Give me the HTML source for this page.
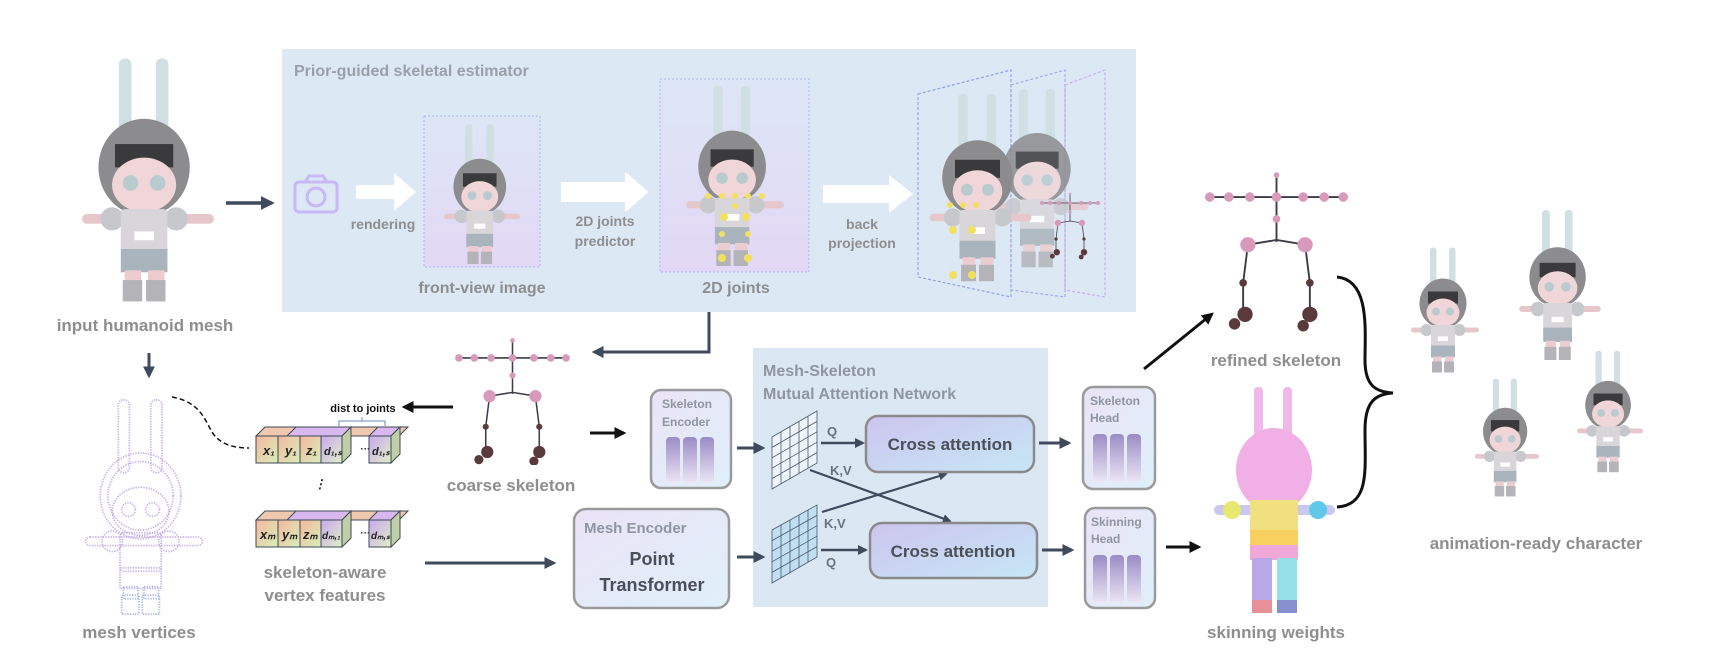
<!DOCTYPE html>
<html><head><meta charset="utf-8"><style>
html,body{margin:0;padding:0;background:#fff;}
svg{display:block;}
text{font-family:"Liberation Sans",sans-serif;font-weight:bold;}
</style></head><body>
<svg width="1724" height="658" viewBox="0 0 1724 658" xmlns="http://www.w3.org/2000/svg">
<defs>
<linearGradient id="box" x1="0" y1="0" x2="1" y2="1"><stop offset="0" stop-color="#ebe3f7"/><stop offset="1" stop-color="#dff0fa"/></linearGradient>
<linearGradient id="ca" x1="0" y1="0" x2="1" y2="1"><stop offset="0" stop-color="#cdc4ee"/><stop offset="1" stop-color="#c6e7f6"/></linearGradient>
<linearGradient id="bar" x1="0" y1="0" x2="0" y2="1"><stop offset="0" stop-color="#9a8cc6"/><stop offset="1" stop-color="#ece6f4"/></linearGradient>
<linearGradient id="frame" x1="0" y1="0" x2="0" y2="1"><stop offset="0" stop-color="#dde6f6"/><stop offset="1" stop-color="#e3d8f5"/></linearGradient>
<linearGradient id="cell" x1="0" y1="0" x2="1" y2="1"><stop offset="0" stop-color="#f6b7a0"/><stop offset="1" stop-color="#d6f0b8"/></linearGradient>
<linearGradient id="cellp" x1="0" y1="0" x2="1" y2="1"><stop offset="0" stop-color="#c8a8ee"/><stop offset="1" stop-color="#e0f0c8"/></linearGradient>
<marker id="ah" viewBox="0 0 10 10" refX="8" refY="5" markerWidth="4" markerHeight="4" orient="auto"><path d="M0,0L10,5L0,10z" fill="#3f4a5c"/></marker>
<marker id="ahb" viewBox="0 0 10 10" refX="8" refY="5" markerWidth="4" markerHeight="4" orient="auto"><path d="M0,0L10,5L0,10z" fill="#111"/></marker>
<symbol id="ch" viewBox="0 0 140 250">
 <rect x="40" y="0" width="13" height="85" rx="6" fill="#cfdfe2"/>
 <rect x="78" y="0" width="13" height="85" rx="6" fill="#cfdfe2"/>
 <ellipse cx="66" cy="112" rx="47" ry="50" fill="#8c8c8e"/>
 <rect x="36" y="88" width="60" height="24" fill="#3a3a3c"/>
 <ellipse cx="66" cy="130" rx="33" ry="28" fill="#f0d6d8"/>
 <circle cx="52" cy="128" r="8" fill="#b9cbcf"/><circle cx="80" cy="128" r="8" fill="#b9cbcf"/>
 <rect x="2" y="160" width="136" height="10" rx="5" fill="#e6c8cc"/>
 <ellipse cx="33" cy="165" rx="12" ry="12" fill="#c6c8cc"/><ellipse cx="99" cy="165" rx="12" ry="12" fill="#c6c8cc"/>
 <rect x="42" y="155" width="48" height="45" rx="4" fill="#d9d6da"/>
 <rect x="56" y="178" width="20" height="9" fill="#fff"/>
 <rect x="42" y="196" width="48" height="24" fill="#a9b4bc"/>
 <rect x="46" y="218" width="17" height="14" fill="#ecccd0"/><rect x="70" y="218" width="17" height="14" fill="#ecccd0"/>
 <rect x="44" y="228" width="20" height="22" fill="#b4b4b8"/><rect x="68" y="228" width="20" height="22" fill="#b4b4b8"/>
</symbol>
<symbol id="chw" viewBox="0 0 140 250">
 <g fill="none" stroke="#c4aeea" stroke-width="2" stroke-dasharray="1.5,1.5">
 <rect x="40" y="0" width="13" height="85" rx="6"/>
 <rect x="78" y="0" width="13" height="85" rx="6"/>
 <ellipse cx="66" cy="112" rx="47" ry="50"/>
 <ellipse cx="66" cy="112" rx="38" ry="40"/>
 <ellipse cx="66" cy="130" rx="33" ry="28"/>
 <circle cx="52" cy="128" r="8"/><circle cx="80" cy="128" r="8"/>
 <rect x="2" y="160" width="136" height="10" rx="5"/>
 <ellipse cx="33" cy="165" rx="12" ry="12"/><ellipse cx="99" cy="165" rx="12" ry="12"/>
 <rect x="42" y="155" width="48" height="45" rx="4"/>
 <rect x="42" y="196" width="48" height="24"/>
 <rect x="46" y="218" width="17" height="14" stroke="#a8b8e8"/><rect x="70" y="218" width="17" height="14" stroke="#a8b8e8"/>
 <rect x="44" y="228" width="20" height="22" stroke="#a8b8e8"/><rect x="68" y="228" width="20" height="22" stroke="#a8b8e8"/>
 </g>
</symbol>
<symbol id="sk" viewBox="-5 -5 150 170">
 <g stroke="#3d3d48" stroke-width="2" fill="none">
  <path d="M0,25H140M70,0V72M40,75L70,70L100,75M40,75L35,115L35,148M100,75L105,115L105,148"/>
 </g>
 <g fill="#d79abb"><circle cx="70" cy="2" r="3"/><circle cx="0" cy="25" r="5"/><circle cx="20" cy="25" r="5"/><circle cx="42" cy="25" r="5"/><circle cx="70" cy="25" r="5"/><circle cx="98" cy="25" r="5"/><circle cx="120" cy="25" r="5"/><circle cx="140" cy="25" r="5"/><circle cx="70" cy="48" r="4"/><circle cx="40" cy="75" r="8"/><circle cx="100" cy="75" r="8"/></g>
 <g fill="#5a3a3c"><circle cx="35" cy="115" r="4"/><circle cx="105" cy="115" r="4"/><circle cx="37" cy="148" r="8"/><circle cx="105" cy="148" r="8"/><circle cx="26" cy="158" r="6"/><circle cx="98" cy="160" r="6"/></g>
</symbol>
</defs>

<rect x="282" y="49" width="854" height="263" fill="#dde8f5"/>
<text x="294" y="76" font-size="16" fill="#9aa0aa">Prior-guided skeletal estimator</text>

<use href="#ch" x="80" y="55" width="136" height="250"/>
<text x="145" y="331" font-size="17" fill="#8e8e8e" text-anchor="middle">input humanoid mesh</text>
<line x1="226" y1="203" x2="272" y2="203" stroke="#3f4a5c" stroke-width="3.5" marker-end="url(#ah)"/>

<g fill="none" stroke="#c8b8f5" stroke-width="3"><rect x="295" y="182" width="42" height="30" rx="4"/><circle cx="316" cy="197" r="9"/><path d="M305,182l4,-6h14l4,6"/></g>
<path d="M356,185h38v-12l22,19l-22,19v-12h-38z" fill="#fff"/>
<text x="383" y="229" font-size="14" fill="#8e8e8e" text-anchor="middle">rendering</text>

<rect x="424" y="116" width="116" height="151" fill="url(#frame)" stroke="#a8b8ee" stroke-dasharray="2,2"/>
<use href="#ch" x="440" y="124" width="84" height="140"/>
<text x="482" y="293" font-size="16" fill="#8e8e8e" text-anchor="middle">front-view image</text>

<path d="M561,182h64v-10l24,20l-24,20v-10h-64z" fill="#fff"/>
<text x="605" y="226" font-size="14" fill="#8e8e8e" text-anchor="middle">2D joints</text>
<text x="605" y="246" font-size="14" fill="#8e8e8e" text-anchor="middle">predictor</text>

<rect x="660" y="79" width="149" height="193" fill="url(#frame)" stroke="#a8b8ee" stroke-dasharray="2,2"/>
<use href="#ch" x="680" y="86" width="110" height="180"/>
<g fill="#f4e060"><circle cx="735" cy="196" r="3"/><circle cx="722" cy="196" r="3"/><circle cx="748" cy="196" r="3"/><circle cx="708" cy="196" r="3"/><circle cx="762" cy="196" r="3"/><circle cx="735" cy="206" r="3"/><circle cx="724" cy="217" r="4"/><circle cx="746" cy="217" r="4"/><circle cx="722" cy="234" r="3"/><circle cx="748" cy="234" r="3"/><circle cx="722" cy="258" r="4"/><circle cx="748" cy="258" r="4"/></g>
<text x="736" y="293" font-size="16" fill="#8e8e8e" text-anchor="middle">2D joints</text>

<path d="M823,185h66v-10l24,19l-24,19v-10h-66z" fill="#fff"/>
<text x="862" y="229" font-size="14" fill="#8e8e8e" text-anchor="middle">back</text>
<text x="862" y="248" font-size="14" fill="#8e8e8e" text-anchor="middle">projection</text>

<g fill="none" stroke-dasharray="3,2" stroke-width="1.2">
<path d="M918,94L1011,70V297L918,277Z" stroke="#8fa4e8"/>
<path d="M1011,85L1065,70V297L1011,290Z" stroke="#a9a8ee"/>
<path d="M1065,85L1105,70V297L1065,290Z" stroke="#c7b0ee"/>
</g>
<use href="#ch" x="990" y="82" width="100" height="192" opacity="0.85"/>
<use href="#ch" x="928" y="90" width="105" height="195"/>
<g fill="#f4e060"><circle cx="963" cy="205" r="3"/><circle cx="950" cy="205" r="3"/><circle cx="976" cy="205" r="3"/><circle cx="953" cy="230" r="4"/><circle cx="972" cy="230" r="4"/><circle cx="953" cy="275" r="4"/><circle cx="972" cy="275" r="4"/></g>
<use href="#sk" x="1040" y="190" width="60" height="70"/>

<path d="M709,312V352H594" fill="none" stroke="#3f4a5c" stroke-width="3" marker-end="url(#ah)"/>
<line x1="149" y1="353" x2="149" y2="376" stroke="#3f4a5c" stroke-width="3" marker-end="url(#ah)"/>

<use href="#chw" x="84" y="397" width="120" height="220"/>
<text x="139" y="638" font-size="17" fill="#8e8e8e" text-anchor="middle">mesh vertices</text>

<path d="M172,397C200,402 205,420 212,432C220,445 235,448 249,448" fill="none" stroke="#111" stroke-width="1.5" stroke-dasharray="5,3"/>

<use href="#sk" x="455" y="335" width="115" height="130"/>
<text x="511" y="491" font-size="17" fill="#8e8e8e" text-anchor="middle">coarse skeleton</text>
<line x1="453" y1="407" x2="404" y2="407" stroke="#111" stroke-width="3" marker-end="url(#ahb)"/>
<text x="363" y="412" font-size="11" fill="#111" text-anchor="middle">dist to joints</text>
<path d="M339,426V421H385V426M362,421V417" fill="none" stroke="#6a8ab8" stroke-width="1"/>

<g font-style="italic" font-size="13">
<g>
<path d="M256,436l9,-9h143l-9,9z" fill="#f0c8b0" stroke="#3d4a55"/>
<path d="M342,436l9,-9h-55l-9,9z" fill="#d8b8ee" stroke="#3d4a55"/>
<rect x="256" y="436" width="22" height="27" fill="url(#cell)" stroke="#3d4a55"/>
<rect x="278" y="436" width="22" height="27" fill="url(#cell)" stroke="#3d4a55"/>
<rect x="300" y="436" width="21" height="27" fill="url(#cell)" stroke="#3d4a55"/>
<rect x="321" y="436" width="21" height="27" fill="url(#cellp)" stroke="#3d4a55"/>
<path d="M342,436l9,-9v27l-9,9z" fill="#c0cfa8" stroke="#3d4a55"/>
<text x="263" y="455" fill="#222" font-family="Liberation Serif">x₁</text><text x="285" y="455" fill="#222" font-family="Liberation Serif">y₁</text><text x="306" y="455" fill="#222" font-family="Liberation Serif">z₁</text><text x="324" y="455" font-size="11" fill="#222" font-family="Liberation Serif">d₁,ₛ</text>
<text x="360" y="452" font-size="10" fill="#222">···</text>
<path d="M369,436l9,-9h22l-9,9z" fill="#d8b8ee" stroke="#3d4a55"/>
<rect x="369" y="436" width="22" height="27" fill="url(#cellp)" stroke="#3d4a55"/>
<path d="M391,436l9,-9v27l-9,9z" fill="#c0cfa8" stroke="#3d4a55"/>
<text x="372" y="455" font-size="11" fill="#222" font-family="Liberation Serif">d₁,ₛ</text>
</g>
<text x="320" y="488" font-size="12" fill="#222" text-anchor="middle">⋮</text>
<g transform="translate(0,84)">
<path d="M256,436l9,-9h143l-9,9z" fill="#f0c8b0" stroke="#3d4a55"/>
<path d="M342,436l9,-9h-55l-9,9z" fill="#d8b8ee" stroke="#3d4a55"/>
<rect x="256" y="436" width="22" height="27" fill="url(#cell)" stroke="#3d4a55"/>
<rect x="278" y="436" width="22" height="27" fill="url(#cell)" stroke="#3d4a55"/>
<rect x="300" y="436" width="21" height="27" fill="url(#cell)" stroke="#3d4a55"/>
<rect x="321" y="436" width="21" height="27" fill="url(#cellp)" stroke="#3d4a55"/>
<path d="M342,436l9,-9v27l-9,9z" fill="#c0cfa8" stroke="#3d4a55"/>
<text x="260" y="455" fill="#222" font-family="Liberation Serif">xₘ</text><text x="282" y="455" fill="#222" font-family="Liberation Serif">yₘ</text><text x="303" y="455" fill="#222" font-family="Liberation Serif">zₘ</text><text x="322" y="455" font-size="10" fill="#222" font-family="Liberation Serif">dₘ,₁</text>
<text x="360" y="452" font-size="10" fill="#222">···</text>
<path d="M369,436l9,-9h22l-9,9z" fill="#d8b8ee" stroke="#3d4a55"/>
<rect x="369" y="436" width="22" height="27" fill="url(#cellp)" stroke="#3d4a55"/>
<path d="M391,436l9,-9v27l-9,9z" fill="#c0cfa8" stroke="#3d4a55"/>
<text x="371" y="455" font-size="10" fill="#222" font-family="Liberation Serif">dₘ,ₛ</text>
</g>
</g>
<text x="325" y="578" font-size="17" fill="#8e8e8e" text-anchor="middle">skeleton-aware</text>
<text x="325" y="601" font-size="17" fill="#8e8e8e" text-anchor="middle">vertex features</text>
<line x1="425" y1="563" x2="554" y2="563" stroke="#3f4a5c" stroke-width="3" marker-end="url(#ah)"/>
<line x1="590" y1="433" x2="624" y2="433" stroke="#111" stroke-width="3" marker-end="url(#ahb)"/>

<rect x="753" y="348" width="295" height="259" fill="#dbe8f4"/>
<text x="763" y="376" font-size="16" fill="#8f96a0">Mesh-Skeleton</text>
<text x="763" y="399" font-size="16" fill="#8f96a0">Mutual Attention Network</text>

<rect x="651" y="390" width="80" height="98" rx="10" fill="url(#box)" stroke="#9a9a9a" stroke-width="2.5"/>
<text x="662" y="408" font-size="12" fill="#8f96a0">Skeleton</text>
<text x="662" y="426" font-size="12" fill="#8f96a0">Encoder</text>
<rect x="666" y="437" width="14" height="46" rx="4" fill="url(#bar)"/><rect x="683" y="437" width="14" height="46" rx="4" fill="url(#bar)"/><rect x="700" y="437" width="14" height="46" rx="4" fill="url(#bar)"/>

<rect x="574" y="509" width="155" height="99" rx="12" fill="url(#box)" stroke="#9a9a9a" stroke-width="2.5"/>
<text x="584" y="533" font-size="15" fill="#8f96a0">Mesh Encoder</text>
<text x="652" y="565" font-size="18" fill="#4a4f58" text-anchor="middle">Point</text>
<text x="652" y="591" font-size="18" fill="#4a4f58" text-anchor="middle">Transformer</text>

<line x1="737" y1="448" x2="763" y2="448" stroke="#3f4a5c" stroke-width="3" marker-end="url(#ah)"/>
<line x1="737" y1="557" x2="763" y2="557" stroke="#3f4a5c" stroke-width="3" marker-end="url(#ah)"/>

<g stroke="#4a5a70" stroke-width="0.8">
<path d="M772,437L817,411V463L772,489Z" fill="#eef5fa"/>
<path d="M781,432V484M790,427V479M799,421V473M808,416V468M772,447.4L817,421.4M772,457.8L817,431.8M772,468.2L817,442.2M772,478.6L817,452.6" fill="none"/>
<path d="M772,530L817,505V557L772,583Z" fill="#c2dff2"/>
<path d="M781,525V578M790,520V573M799,515V568M808,510V562M772,540.6L817,515.4M772,551.2L817,525.8M772,561.8L817,536.2M772,572.4L817,546.6" fill="none"/>
</g>

<text x="827" y="436" font-size="13" fill="#6a7280">Q</text>
<text x="830" y="475" font-size="13" fill="#6a7280">K,V</text>
<text x="824" y="528" font-size="13" fill="#6a7280">K,V</text>
<text x="826" y="567" font-size="13" fill="#6a7280">Q</text>
<line x1="821" y1="443" x2="863" y2="443" stroke="#3f4a5c" stroke-width="2.5" marker-end="url(#ah)"/>
<line x1="821" y1="550" x2="866" y2="550" stroke="#3f4a5c" stroke-width="2.5" marker-end="url(#ah)"/>
<line x1="810" y1="470" x2="950" y2="521" stroke="#3f4a5c" stroke-width="2.2" marker-end="url(#ah)"/>
<line x1="822" y1="512" x2="946" y2="474" stroke="#3f4a5c" stroke-width="2.2" marker-end="url(#ah)"/>

<rect x="866" y="416" width="168" height="56" rx="12" fill="url(#ca)" stroke="#8a8a8a" stroke-width="2.5"/>
<text x="950" y="450" font-size="17" fill="#4a4f58" text-anchor="middle">Cross attention</text>
<rect x="870" y="523" width="167" height="55" rx="12" fill="url(#ca)" stroke="#8a8a8a" stroke-width="2.5"/>
<text x="953" y="557" font-size="17" fill="#4a4f58" text-anchor="middle">Cross attention</text>

<line x1="1039" y1="443" x2="1069" y2="443" stroke="#3f4a5c" stroke-width="3" marker-end="url(#ah)"/>
<line x1="1042" y1="550" x2="1072" y2="550" stroke="#3f4a5c" stroke-width="3" marker-end="url(#ah)"/>

<rect x="1083" y="387" width="72" height="102" rx="10" fill="url(#box)" stroke="#9a9a9a" stroke-width="2.5"/>
<text x="1090" y="405" font-size="12" fill="#8f96a0">Skeleton</text>
<text x="1090" y="422" font-size="12" fill="#8f96a0">Head</text>
<rect x="1093" y="434" width="14" height="48" rx="4" fill="url(#bar)"/><rect x="1110" y="434" width="14" height="48" rx="4" fill="url(#bar)"/><rect x="1127" y="434" width="14" height="48" rx="4" fill="url(#bar)"/>
<rect x="1085" y="508" width="70" height="100" rx="10" fill="url(#box)" stroke="#9a9a9a" stroke-width="2.5"/>
<text x="1091" y="526" font-size="12" fill="#8f96a0">Skinning</text>
<text x="1091" y="543" font-size="12" fill="#8f96a0">Head</text>
<rect x="1093" y="555" width="14" height="48" rx="4" fill="url(#bar)"/><rect x="1110" y="555" width="14" height="48" rx="4" fill="url(#bar)"/><rect x="1127" y="555" width="14" height="48" rx="4" fill="url(#bar)"/>

<line x1="1144" y1="369" x2="1212" y2="314" stroke="#111" stroke-width="3" marker-end="url(#ahb)"/>
<use href="#sk" x="1205" y="167" width="143" height="165"/>
<text x="1276" y="366" font-size="17" fill="#8e8e8e" text-anchor="middle">refined skeleton</text>
<line x1="1166" y1="547" x2="1199" y2="547" stroke="#111" stroke-width="3" marker-end="url(#ahb)"/>

<g>
<rect x="1254" y="387" width="9" height="50" rx="4" fill="#f0b8e8"/><rect x="1283" y="387" width="9" height="50" rx="4" fill="#f0b8e8"/>
<ellipse cx="1274" cy="470" rx="38" ry="42" fill="#f0b0e6"/>
<rect x="1214" y="505" width="121" height="10" rx="5" fill="#c8c8f0"/>
<circle cx="1232" cy="510" r="9" fill="#e8e870"/><circle cx="1318" cy="510" r="9" fill="#60c8e8"/>
<rect x="1250" y="500" width="48" height="45" fill="#f0e080"/>
<rect x="1250" y="530" width="48" height="15" fill="#f8d060"/>
<rect x="1250" y="545" width="48" height="15" fill="#f0a8d8"/>
<rect x="1252" y="558" width="20" height="50" fill="#b8a8e8"/><rect x="1277" y="558" width="20" height="50" fill="#98e0e8"/>
<rect x="1252" y="600" width="20" height="13" fill="#e89098"/><rect x="1277" y="600" width="20" height="13" fill="#8890d0"/>
</g>
<text x="1276" y="638" font-size="17" fill="#8e8e8e" text-anchor="middle">skinning weights</text>

<path d="M1337,277C1370,280 1365,330 1365,360C1365,385 1375,392 1393,393C1375,394 1365,402 1365,430C1365,470 1370,505 1337,507" fill="none" stroke="#111" stroke-width="3"/>

<use href="#ch" x="1410" y="237" width="70" height="146"/>
<use href="#ch" x="1518" y="203" width="84" height="164"/>
<use href="#ch" x="1474" y="363" width="66" height="149"/>
<use href="#ch" x="1576" y="323" width="68" height="177"/>
<text x="1536" y="549" font-size="17" fill="#8e8e8e" text-anchor="middle">animation-ready character</text>
</svg>
</body></html>
